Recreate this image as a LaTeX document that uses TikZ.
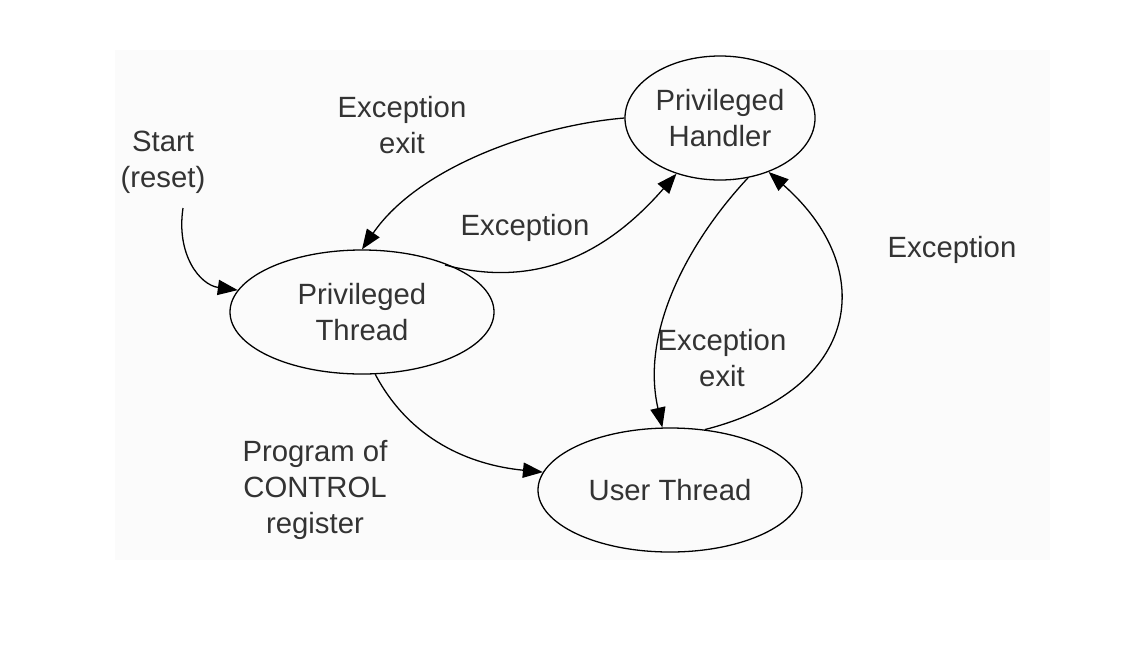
\documentclass[tikz,border=0pt]{standalone}
\usepackage{fontspec}
\setmainfont{Liberation Sans}
\usetikzlibrary{arrows.meta,shapes.geometric}
\begin{document}
\begin{tikzpicture}[x=0.03cm,y=-0.03cm,
  st/.style={draw,line width=1.1pt,ellipse,inner sep=0},
  lbl/.style={align=center,font=\fontsize{25}{31}\selectfont,text=black!80},
  arr/.style={line width=1.1pt,-{Triangle[length=17pt,width=13pt]}}]
\useasboundingbox (0,0) rectangle (1126,662);
\fill[black!1.5] (115,50) rectangle (1050,560);
\node[st, minimum width=5.7cm, minimum height=3.72cm, lbl] (ph) at (720,118) {Privileged\\Handler};
\node[st, minimum width=7.92cm, minimum height=3.72cm, lbl] (pt) at (362,312) {Privileged\\Thread};
\node[st, minimum width=7.92cm, minimum height=3.72cm, lbl] (ut) at (670,490) {User Thread};
\node[lbl] (start) at (163,162) {Start\\(reset)};
\node[lbl] at (402,125) {Exception\\exit};
\node[lbl] at (525,228) {Exception};
\node[lbl] at (952,250) {Exception};
\node[lbl] at (722,358) {Exception\\exit};
\node[lbl] at (315,490) {Program of\\CONTROL\\register};
\coordinate (s0) at (183,208);
\coordinate (e0) at (445,265);
\draw[arr] (s0) .. controls (176,255) and (200,285) .. (pt.170);
\draw[arr] (ph.west) .. controls (540,125) and (420,165) .. (pt.north);
\draw[arr] (e0) .. controls (540,290) and (610,250) .. (ph.232);
\draw[arr] (ph.295) .. controls (690,240) and (640,330) .. (ut.97);
\draw[arr] (ut.60) .. controls (860,390) and (880,270) .. (ph.312);
\draw[arr] (pt.282) .. controls (410,440) and (470,465) .. (ut.172);
\end{tikzpicture}
\end{document}
